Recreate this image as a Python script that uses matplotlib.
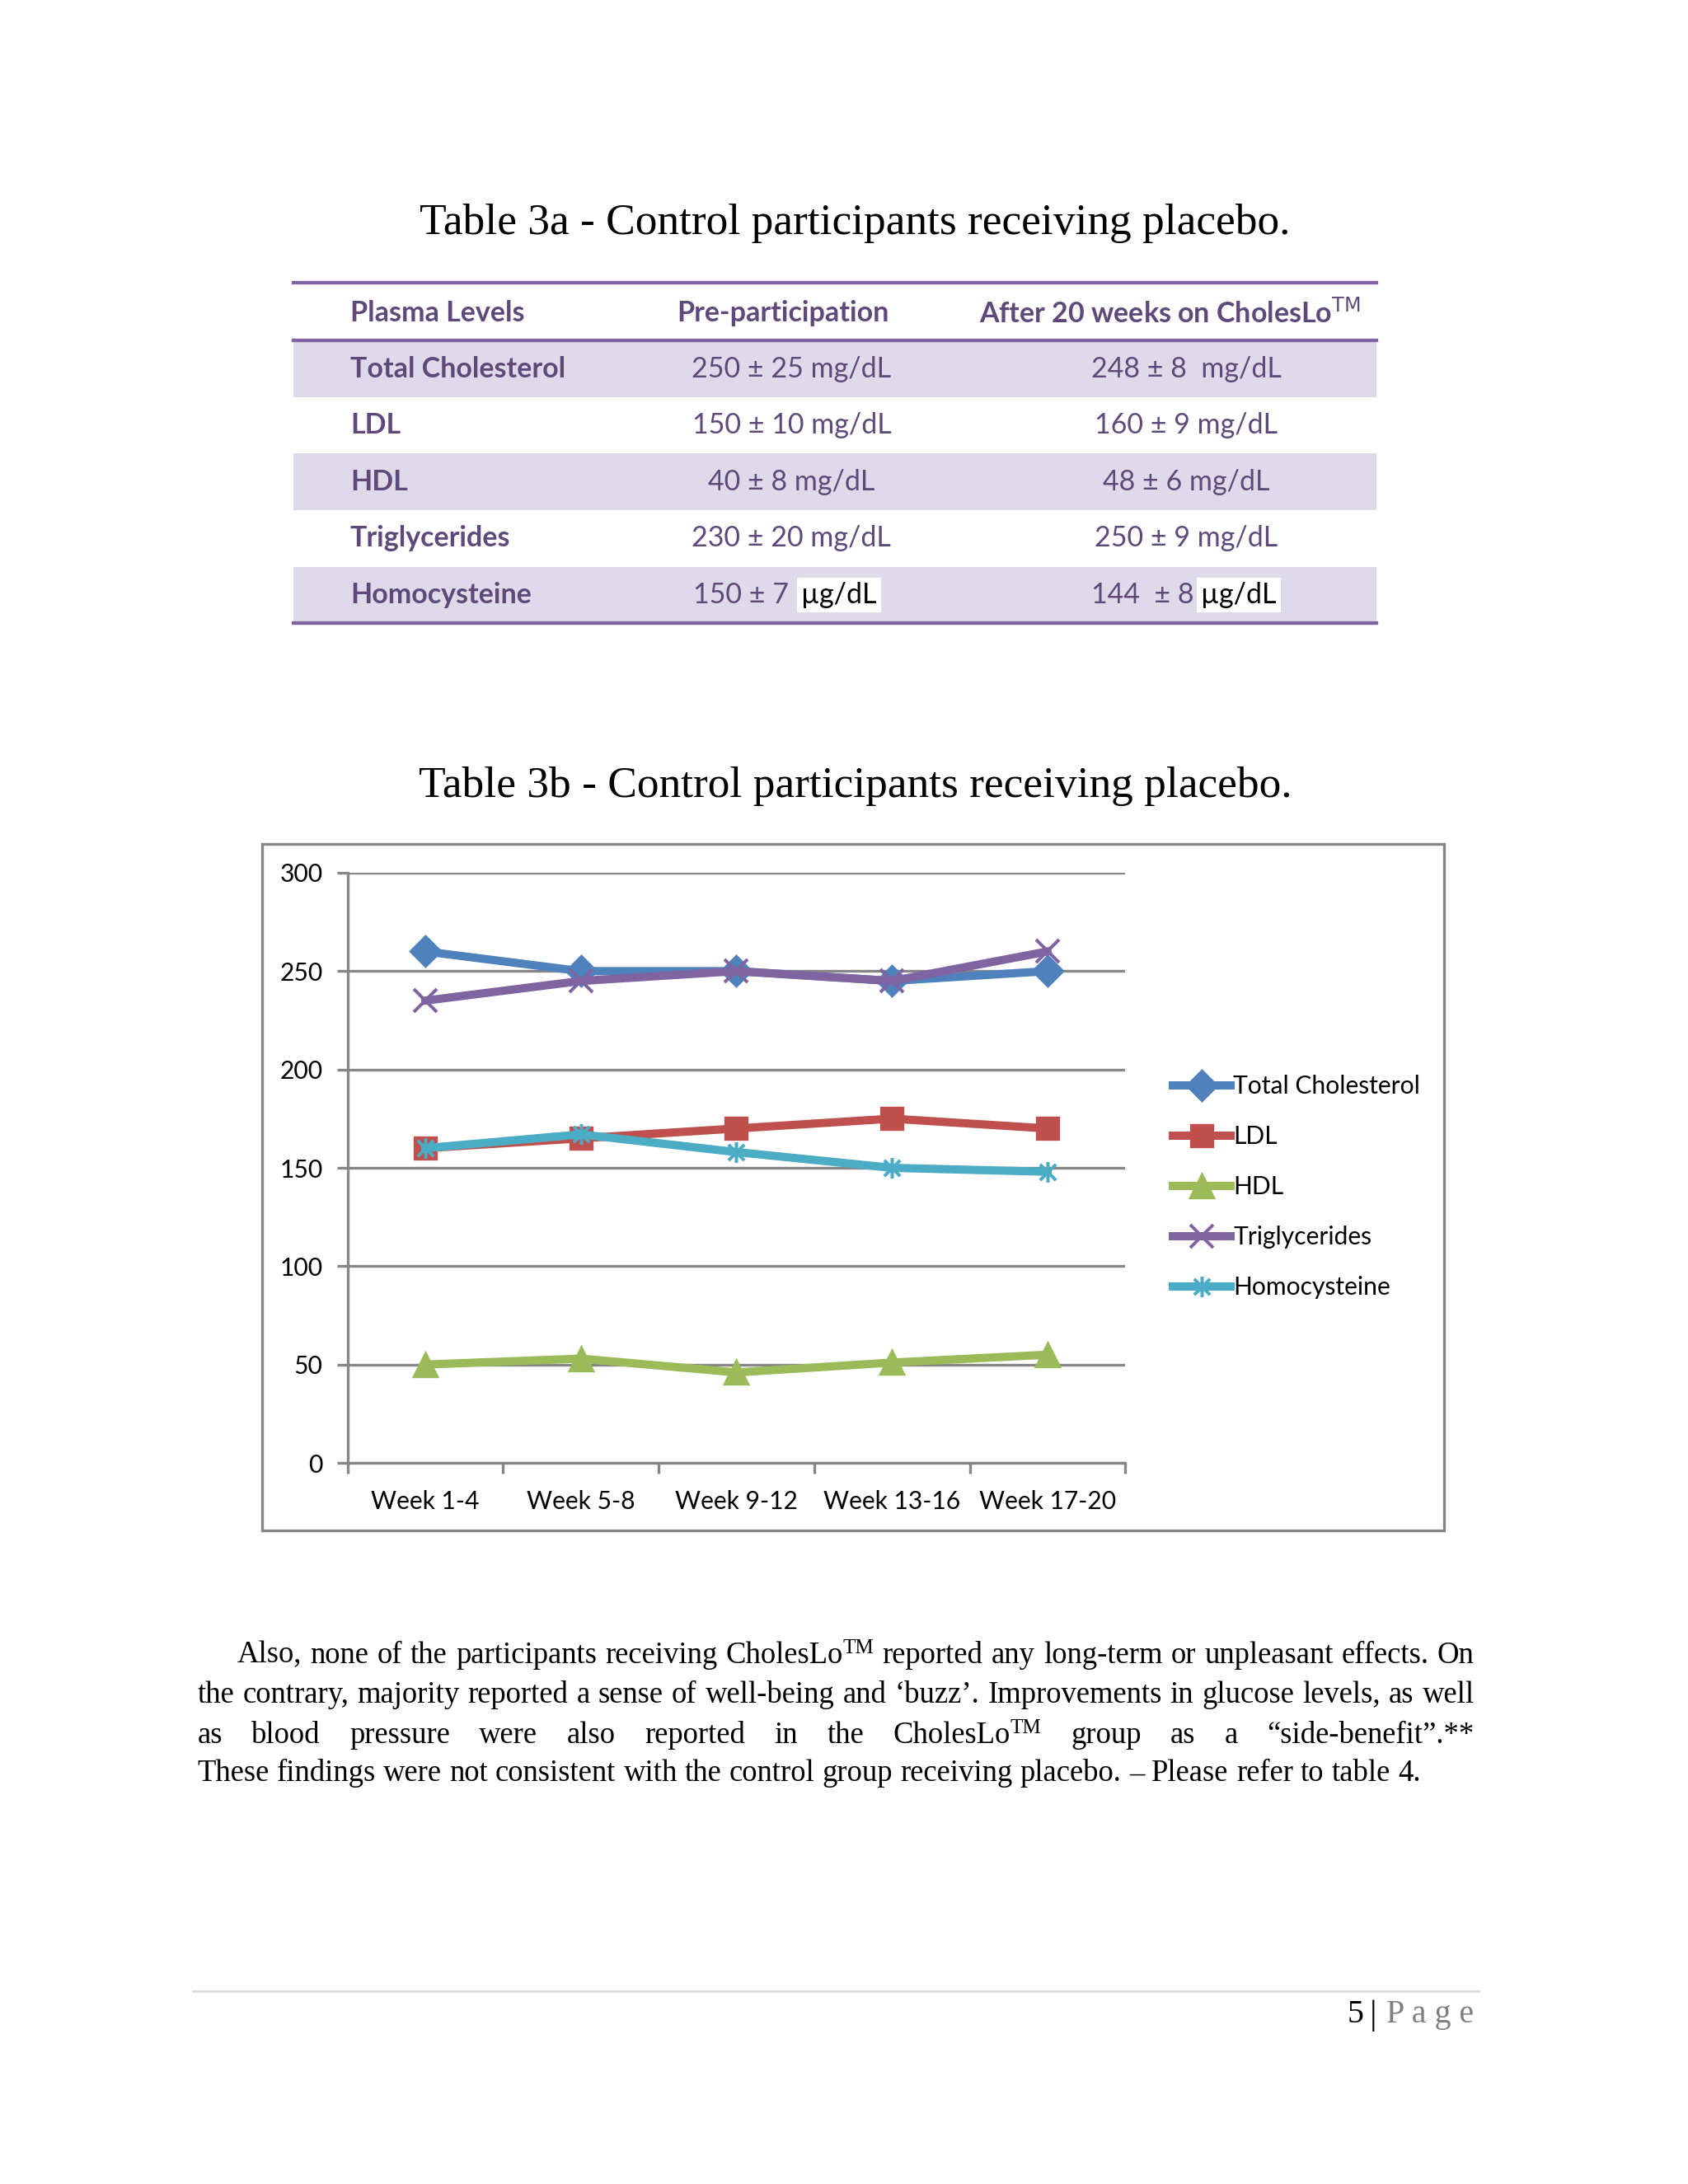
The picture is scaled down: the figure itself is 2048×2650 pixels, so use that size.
import matplotlib
matplotlib.use('Agg')
import matplotlib.pyplot as plt
from matplotlib.patches import Rectangle
from matplotlib.lines import Line2D
from matplotlib.path import Path

# page layout grid (reference measured at 1224 x 1584)
W, H = 1224, 1584


def fx(x):
    return x / W


def fy(y):
    return 1 - y / H


# ---- Table 3a data
plasma_levels = ['Total Cholesterol', 'LDL', 'HDL', 'Triglycerides', 'Homocysteine']
pre_values = ['250 ± 25', '150 ± 10', '40 ± 8', '230 ± 20', '150 ± 7']
after_values = ['248 ± 8 ', '160 ± 9', '48 ± 6', '250 ± 9', '144  ± 8']
units = ['mg/dL', 'mg/dL', 'mg/dL', 'mg/dL', 'µg/dL']

# ---- Table 3b (chart) data
weeks = ['Week 1-4', 'Week 5-8', 'Week 9-12', 'Week 13-16', 'Week 17-20']
total_cholesterol = [260, 250, 250, 245, 250]
ldl = [160, 165, 170, 175, 170]
hdl = [50, 53, 46, 51, 55]
triglycerides = [235, 245, 250, 245, 260]
homocysteine = [160, 167, 158, 150, 148]

paragraph = [
    'Also, none of the participants receiving CholesLo^TM reported any long-term or unpleasant effects. On',
    'the contrary, majority reported a sense of well-being and ‘buzz’. Improvements in glucose levels, as well',
    'as blood pressure were also reported in the CholesLo^TM group as a “side-benefit”.**',
    'These findings were not consistent with the control group receiving placebo. – Please refer to table 4.',
]

SERIF = 'Liberation Serif'
SANS = 'Lato'
PURPLE = '#8064A2'
TXT = '#5F497A'
SHADE = '#DFDAEA'

fig = plt.figure(figsize=(2048 / 240, 2650 / 240), dpi=240)
renderer = fig.canvas.get_renderer()

# ---- Table 3a
fig.text(fx(620), fy(162), 'Table 3a - Control participants receiving placebo.',
         family=SERIF, fontsize=16, ha='center', va='center')

x_left, x_right = 213, 998
row_top = 247
row_h = 41
for i in range(len(plasma_levels)):
    if i % 2 == 0:
        fig.patches.append(Rectangle((fx(x_left), fy(row_top + (i + 1) * row_h)),
                                     fx(x_right) - fx(x_left), row_h / H,
                                     transform=fig.transFigure, facecolor=SHADE,
                                     edgecolor='none', zorder=0))
for yl in [205, 247, 452]:
    fig.add_artist(Line2D([fx(x_left), fx(x_right)], [fy(yl), fy(yl)],
                          color=PURPLE, lw=1.3, transform=fig.transFigure))

TFS = 10.2
hdr_kw = dict(family=SANS, fontsize=TFS, fontweight='bold', color=TXT, va='center')
fig.text(fx(254), fy(227), 'Plasma Levels', ha='left', **hdr_kw)
fig.text(fx(568), fy(227), 'Pre-participation', ha='center', **hdr_kw)
fig.text(fx(848), fy(227), 'After 20 weeks on CholesLo$^{\\mathrm{TM}}$', ha='center', **hdr_kw)

for i, name in enumerate(plasma_levels):
    yc = fy(row_top + row_h * i + row_h / 2)
    fig.text(fx(254), yc, name, ha='left', **hdr_kw)
    val_kw = dict(family=SANS, fontsize=TFS, color=TXT, va='center')
    if units[i] == 'mg/dL':
        fig.text(fx(574), yc, pre_values[i] + ' ' + units[i], ha='center', **val_kw)
        fig.text(fx(860), yc, after_values[i] + ' ' + units[i], ha='center', **val_kw)
    else:
        # unit pasted in black on a white patch
        box = dict(facecolor='white', edgecolor='none', pad=1.5)
        fig.text(fx(572), yc, pre_values[i], ha='right', **val_kw)
        fig.text(fx(581), yc, units[i], ha='left', family=SANS, fontsize=TFS,
                 color='black', va='center', bbox=box)
        fig.text(fx(866), yc, after_values[i], ha='right', **val_kw)
        fig.text(fx(871), yc, units[i], ha='left', family=SANS, fontsize=TFS,
                 color='black', va='center', bbox=box)

# ---- Table 3b title and chart frame
fig.text(fx(620), fy(570), 'Table 3b - Control participants receiving placebo.',
         family=SERIF, fontsize=16, ha='center', va='center')
fig.patches.append(Rectangle((fx(190), fy(1110)), fx(1047) - fx(190), (1110 - 612) / H,
                             transform=fig.transFigure, facecolor='none',
                             edgecolor='#868686', lw=1.0))

ax = fig.add_axes([fx(252), fy(1061), fx(816) - fx(252), (1061 - 633) / H])
ax.set_facecolor('none')

star = Path([(-1, -1), (1, 1), (-1, 1), (1, -1), (0, -1.3), (0, 1.3)],
            [Path.MOVETO, Path.LINETO, Path.MOVETO, Path.LINETO, Path.MOVETO, Path.LINETO])

x = list(range(len(weeks)))
series = [
    ('Total Cholesterol', total_cholesterol, '#4F81BD', 'D', 7.5, 1),
    ('LDL', ldl, '#C0504D', 's', 8, 1),
    ('HDL', hdl, '#9BBB59', '^', 8.5, 1),
    ('Triglycerides', triglycerides, '#8064A2', 'x', 8.5, 1.2),
    ('Homocysteine', homocysteine, '#4BACC6', star, 7.5, 1.2),
]
for label, vals, col, mk, ms, mew in series:
    ax.plot(x, vals, color=col, lw=3, marker=mk, markersize=ms,
            markerfacecolor=col, markeredgecolor=col, markeredgewidth=mew,
            label=label, solid_joinstyle='round', clip_on=False, zorder=3)

CFS = 9
ax.set_xlim(-0.5, 4.5)
ax.set_ylim(0, 300)
ax.set_yticks(range(0, 301, 50))
ax.yaxis.grid(True, color='#868686', lw=1.0)
ax.set_axisbelow(True)
ax.set_xticks([i - 0.5 for i in range(6)])
ax.set_xticklabels([])
ax.set_xticks(x, minor=True)
ax.set_xticklabels(weeks, minor=True)
ax.tick_params(axis='x', which='major', length=4, color='#868686', width=1.0)
ax.tick_params(axis='x', which='minor', length=0, pad=10)
ax.tick_params(axis='y', length=4, color='#868686', width=1.0, pad=5)
for lab in ax.get_xticklabels(minor=True) + ax.get_yticklabels():
    lab.set_family(SANS)
    lab.set_fontsize(CFS)
for s in ['top', 'right']:
    ax.spines[s].set_visible(False)
for s in ['left', 'bottom']:
    ax.spines[s].set_color('#868686')
    ax.spines[s].set_linewidth(1.0)

leg = ax.legend(loc='center left', bbox_to_anchor=(fx(843), fy(861)),
                bbox_transform=fig.transFigure, frameon=False,
                prop={'family': SANS, 'size': CFS}, handlelength=2.35,
                handletextpad=0.1, labelspacing=1.1, borderaxespad=0)

# ---- justified paragraph
FS = 11


def width_of(s, size):
    t = fig.text(0, 0, s, family=SERIF, fontsize=size)
    w = t.get_window_extent(renderer).width / fig.bbox.width * W
    t.remove()
    return w


def word_parts(word):
    if '^' in word:
        base, sup = word.split('^')
        return base, sup
    return word, ''


space_w = width_of('a a', FS) - width_of('aa', FS)
x0s = [172, 143, 143, 143]
baselines = [1206, 1235, 1264, 1292]
for li, line in enumerate(paragraph):
    words = [word_parts(w) for w in line.split(' ')]
    widths = [width_of(b, FS) + (width_of(s, 7.5) if s else 0) for b, s in words]
    if li < len(paragraph) - 1:
        gap = (1069 - x0s[li] - sum(widths)) / (len(words) - 1)
    else:
        gap = space_w
    xc = x0s[li]
    for (b, s), wdt in zip(words, widths):
        fig.text(fx(xc), fy(baselines[li]), b, family=SERIF, fontsize=FS,
                 ha='left', va='baseline')
        if s:
            fig.text(fx(xc + width_of(b, FS)), fy(baselines[li] - 7), s, family=SERIF,
                     fontsize=7.5, ha='left', va='baseline')
        xc += wdt + gap

# ---- footer
fig.add_artist(Line2D([fx(140), fx(1072)], [fy(1444), fy(1444)], color='#D9D9D9',
                      lw=0.8, transform=fig.transFigure))
fig.text(fx(983), fy(1467), '5', family=SERIF, fontsize=12, ha='center', va='baseline')
fig.text(fx(996), fy(1468), '|', family=SERIF, fontsize=13, ha='center', va='baseline')
fig.text(fx(1005), fy(1467), 'P a g e', family=SERIF, fontsize=12, ha='left',
         va='baseline', color='#7F7F7F')

fig.savefig('out.png', dpi=240)
